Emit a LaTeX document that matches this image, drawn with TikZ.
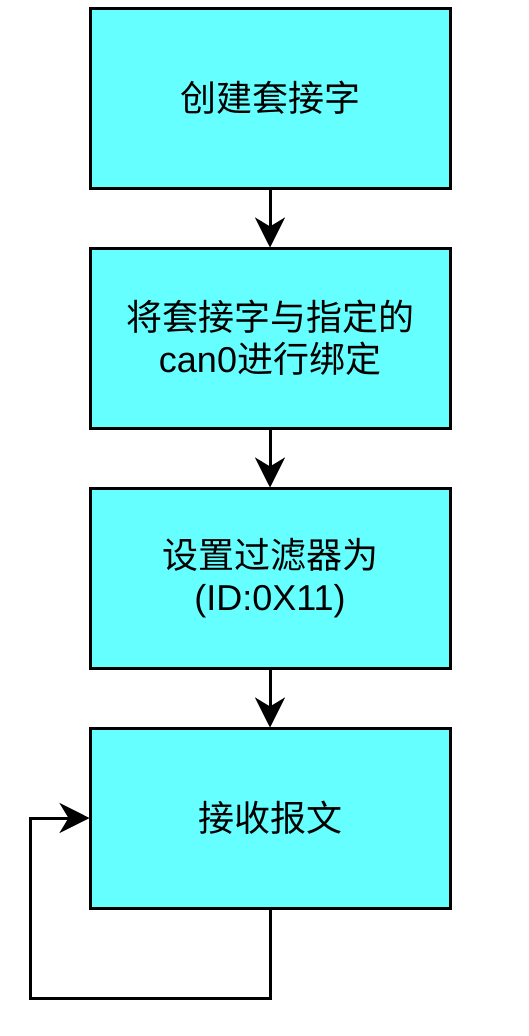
\documentclass[tikz,border=0pt]{standalone}
\usepackage{fontspec}
\setmainfont{Liberation Sans}
\newfontfamily\cjk{Noto Sans CJK SC}
\usetikzlibrary{arrows.meta}
\definecolor{boxfill}{HTML}{66FFFF}
\tikzset{
  procbox/.style={draw=black, line width=3pt, fill=boxfill, minimum width=360pt, minimum height=180pt, inner sep=0pt, align=center, font=\fontsize{36}{42}\selectfont},
  flow/.style={line width=3pt, -{Stealth[length=30pt, width=30pt, inset=9pt]}, shorten >=-1pt}
}
\begin{document}
\begin{tikzpicture}[x=1pt, y=-1pt]
\useasboundingbox (0,0) rectangle (528,1036);
\node[procbox] (b1) at (270,98) {\cjk 创建套接字};
\node[procbox] (b2) at (270,338) {\cjk 将套接字与指定的\\can0\cjk 进行绑定};
\node[procbox] (b3) at (270,578) {\cjk 设置过滤器为\\(ID:0X11)};
\node[procbox] (b4) at (270,818) {\cjk 接收报文};
\coordinate (c1) at (270,998);
\coordinate (c2) at (30,998);
\coordinate (c3) at (30,818);
\draw[flow] (b1.south) -- (b2.north);
\draw[flow] (b2.south) -- (b3.north);
\draw[flow] (b3.south) -- (b4.north);
\draw[flow] (b4.south) -- (c1) -- (c2) -- (c3) -- (b4.west);
\end{tikzpicture}
\end{document}
